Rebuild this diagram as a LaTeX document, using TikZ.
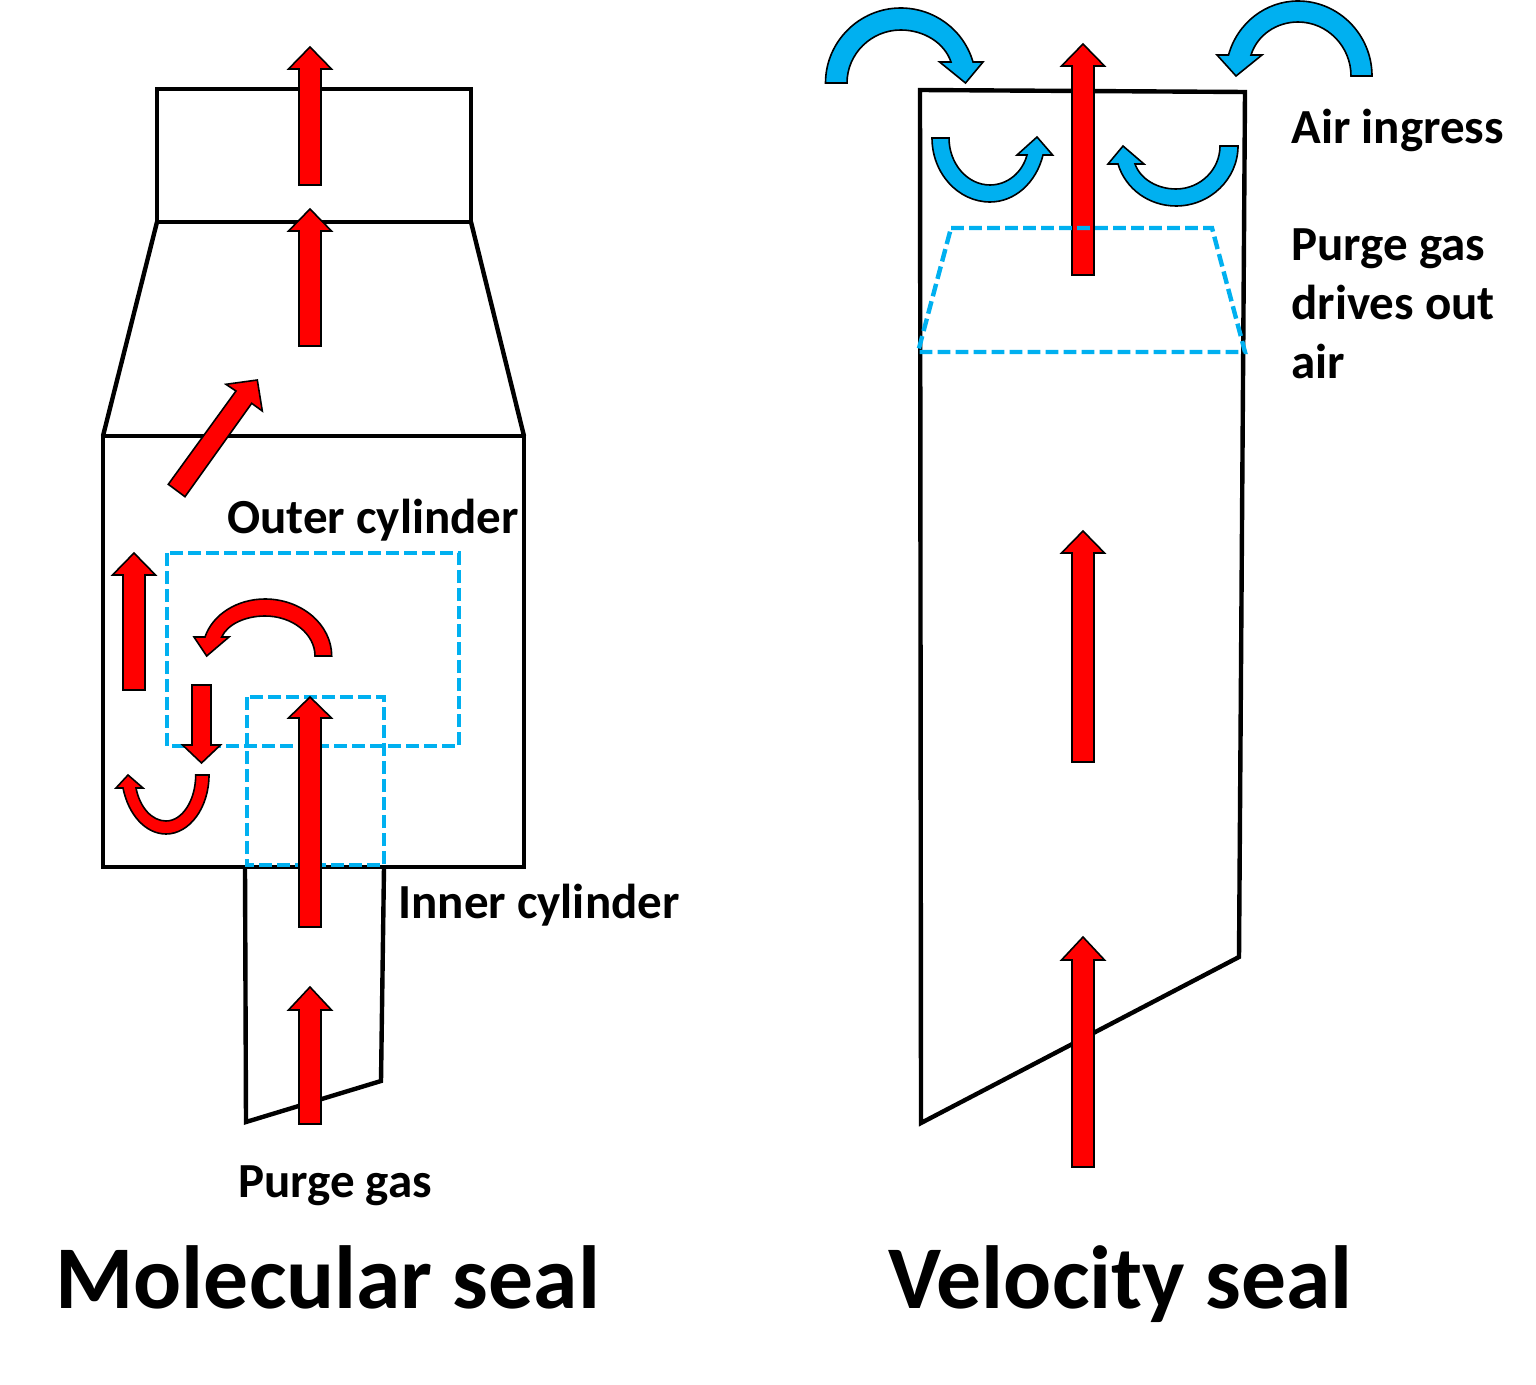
\documentclass[tikz,border=0pt]{standalone}
\usepackage{fontspec}
\setmainfont{Carlito}[BoldFont={Carlito Bold}]
\definecolor{airblue}{HTML}{00B0F0}
\definecolor{flowred}{HTML}{FF0000}
\tikzset{
  wall/.style={draw=black,line width=2.2pt,line join=miter},
  zone/.style={draw=airblue,line width=2.2pt,dash pattern=on 6.4pt off 2.6pt},
  redflow/.style={fill=flowred,draw=black,line width=0.8pt,line join=miter},
  blueflow/.style={fill=airblue,draw=black,line width=0.8pt,line join=miter},
  lab/.style={anchor=base west,inner sep=0pt,font=\fontsize{24.5pt}{24.5pt}\selectfont\bfseries},
  title/.style={anchor=base west,inner sep=0pt,font=\fontsize{44.8pt}{44.8pt}\selectfont\bfseries}
}
% straight vertical arrow: x, tail y, tip y, head-base y, half shaft, half head
\newcommand{\vflow}[7][redflow]{\draw[#1] ({#2-#6},#3+0) -- ({#2+#6},#3+0) -- ({#2+#6},#5) -- ({#2+#7},#5) -- (#2,#4) -- ({#2-#7},#5) -- ({#2-#6},#5) -- cycle;}
\def\fwd#1#2#3#4#5#6{.. controls (#1,{#2+0.55*(#4-#2)}) and ({#3+0.55*(#1-#3)},#4) .. (#3,#4) .. controls ({#3+0.46*(#5-#3)},#4) and ({#5-0.13*(#5-#3)},{#6+0.6*(#4-#6)}) .. (#5,#6)}
\def\bwd#1#2#3#4#5#6{.. controls ({#1-0.13*(#1-#3)},{#2+0.6*(#4-#2)}) and ({#3+0.46*(#1-#3)},#4) .. (#3,#4) .. controls ({#3+0.55*(#5-#3)},#4) and (#5,{#6+0.55*(#4-#6)}) .. (#5,#6)}
\begin{document}
\begin{tikzpicture}[x=0.5pt,y=-0.5pt]
\useasboundingbox (0,0) rectangle (1536,1385);
\fill[white] (0,0) rectangle (1536,1385);
% Molecular seal walls
\draw[wall] (157,89) rectangle (471,222);
\draw[wall] (157,222) -- (103,436);
\draw[wall] (471,222) -- (524,436);
\draw[wall] (103,436) rectangle (524,867);
\draw[wall] (245,867) -- (246,1122) -- (381,1081) -- (384,867);
% dashed zones left
\draw[zone] (167,553) rectangle (459,746);
\draw[zone] (247,697) rectangle (384,865);
% red arrows left
\vflow{310}{185}{47}{69}{11}{21.5}
\vflow{310}{346}{209}{231}{11}{21.5}
\draw[redflow] (168.3,484.3) -- (236,391) -- (226,384.3) -- (257.3,380) -- (262.3,411) -- (251.7,403.3) -- (185,496.7) -- cycle;
\vflow{134}{690}{553}{575}{11}{21.5}
\vflow{201.5}{685}{763}{745}{9.5}{19}
\vflow{310}{927}{697}{718}{11}{21.5}
\vflow{310}{1124}{987}{1010}{11}{21.5}
% curved red
\draw[redflow] (331.7,656) \fwd{331.7}{656}{265}{599}{205}{637} -- (194,637) -- (206.7,656) -- (229,637) -- (221.7,637) \bwd{221.7}{637}{265}{616}{315}{656} -- cycle;
\draw[redflow] (209,775) \fwd{209}{775}{166}{834}{123}{788} -- (116,788) -- (128,775) -- (143,788) -- (136,788) \bwd{136}{788}{166}{821}{195.7}{775} -- cycle;
% Velocity seal
\draw[wall] (920,90) -- (1245,92) -- (1239,957) -- (921,1123) -- cycle;
\vflow{1083}{275}{44}{66}{11}{21.5}
\vflow{1083}{762}{531}{553}{11}{21.5}
\vflow{1083}{1167}{937}{960}{11}{21.5}
\draw[zone] (951,228) -- (1212,228) -- (1245,352) -- (918,352) -- cycle;
% curved blue
\draw[blueflow] (825.5,83) \fwd{825.5}{83}{900.7}{8}{973}{62} -- (983,62) -- (965.5,83) -- (939.6,62) -- (951,62) \bwd{951}{62}{900.7}{30}{847}{83} -- cycle;
\draw[blueflow] (1372,76) \fwd{1372}{76}{1298}{1}{1228.5}{55} -- (1217,55) -- (1236,76) -- (1262,55) -- (1251,55) \bwd{1251}{55}{1298}{22}{1351}{76} -- cycle;
\draw[blueflow] (932,138) \fwd{932}{138}{990}{202}{1043}{155} -- (1052.6,155) -- (1037,137) -- (1017,155) -- (1027,155) \bwd{1027}{155}{990}{185}{949}{138} -- cycle;
\draw[blueflow] (1238,146) \fwd{1238}{146}{1176}{206}{1118}{164} -- (1108,164) -- (1123,146) -- (1144,164) -- (1135,164) \bwd{1135}{164}{1176}{189}{1220}{146} -- cycle;
% labels
\node[lab] (outer) at (227,533) {Outer cylinder};
\node[lab] (inner) at (398,918) {Inner cylinder};
\node[lab] (purge) at (238,1197) {Purge gas};
\node[lab] (air) at (1291,144) {Air ingress};
\node[lab] (drive1) at (1291,261) {Purge gas};
\node[lab] (drive2) at (1291,320) {drives out};
\node[lab] (drive3) at (1291,379) {air};
\node[title] (mol) at (55,1308) {Molecular seal};
\node[title] (vel) at (888,1308) {Velocity seal};
\end{tikzpicture}
\end{document}
